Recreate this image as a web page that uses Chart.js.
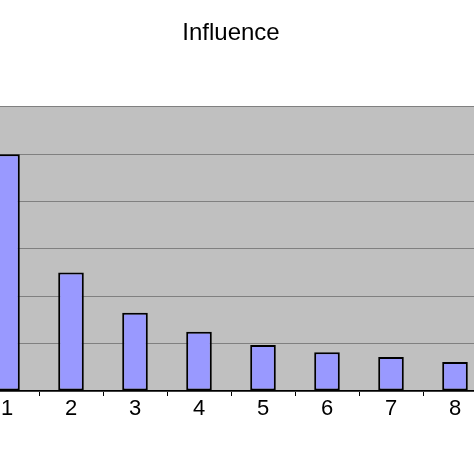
<!DOCTYPE html>
<html>
<head>
<script src="https://cdn.jsdelivr.net/npm/chart.js@4"></script>
<style>
  body { margin: 0; background: #fff; overflow: hidden; }
  #wrap { position: absolute; left: -25px; top: 0; width: 524px; height: 474px; }
</style>
</head>
<body>
<div id="wrap"><canvas id="chart"></canvas></div>
<script>
const categories = ['1', '2', '3', '4', '5', '6', '7', '8'];
const influence = [5.0, 2.5, 1.65, 1.25, 0.97, 0.82, 0.72, 0.61];

// grey plot area like the old spreadsheet charts
const plotBackground = {
    id: 'plotBackground',
    beforeDraw(chart) {
        const { ctx, chartArea: a } = chart;
        ctx.save();
        ctx.fillStyle = '#c0c0c0';
        ctx.fillRect(a.left, a.top, a.right - a.left, a.bottom - a.top);
        ctx.restore();
    }
};

new Chart(document.getElementById('chart'), {
    type: 'bar',
    data: {
        labels: categories,
        datasets: [{
            label: 'Influence',
            data: influence,
            backgroundColor: '#9999ff',
            borderColor: '#000',
            borderWidth: 2,
            borderSkipped: false,
            barPercentage: 0.4,
            categoryPercentage: 1
        }]
    },
    options: {
        responsive: true,
        maintainAspectRatio: false,
        animation: false,
        layout: { padding: { right: 12 } },
        plugins: {
            legend: { display: false },
            tooltip: { enabled: false },
            title: {
                display: true,
                text: 'Influence',
                color: '#000',
                font: { family: 'Liberation Sans, Arial', size: 24, weight: 'normal' },
                padding: { top: 19, bottom: 59 }
            }
        },
        scales: {
            x: {
                offset: true,
                grid: { offset: true, drawOnChartArea: false, drawTicks: true, tickLength: 5, color: '#000' },
                border: { color: '#000', width: 1.5 },
                ticks: { color: '#000', padding: 0, font: { family: 'Liberation Sans, Arial', size: 22 } },
                afterFit(s) { s.height = 83; }
            },
            y: {
                min: 0,
                max: 6,
                ticks: { stepSize: 1, display: false },
                grid: { color: '#808080', drawTicks: false },
                border: { display: false },
                afterFit(s) { s.width = 0; }
            }
        }
    },
    plugins: [plotBackground]
});
</script>
</body>
</html>
